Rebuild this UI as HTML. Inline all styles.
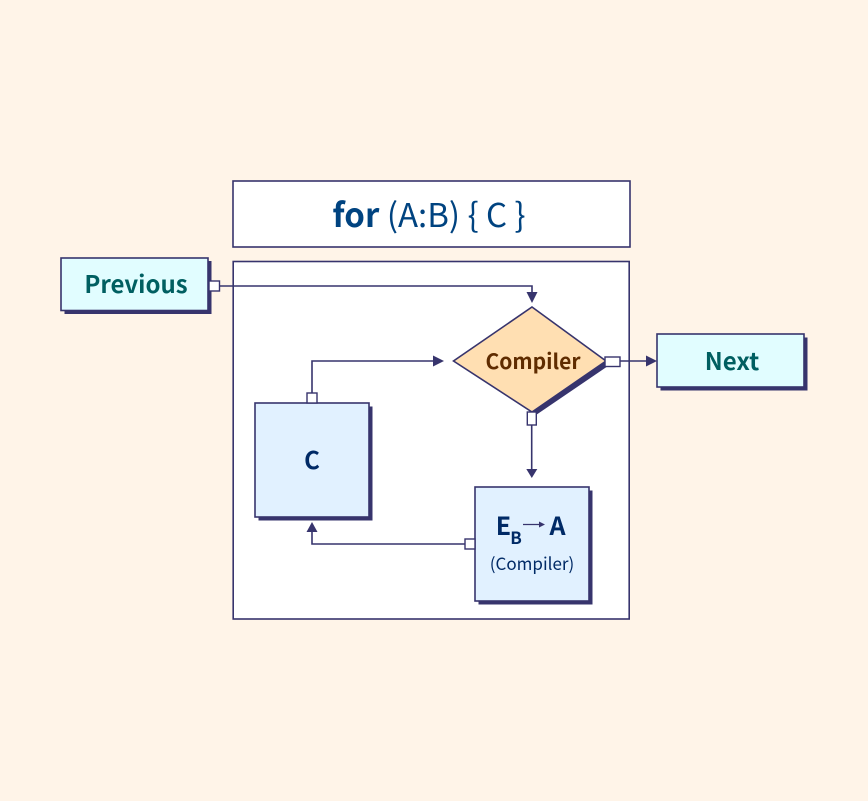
<!DOCTYPE html>
<html><head><meta charset="utf-8"><style>
html,body{margin:0;padding:0;background:#fff4e8}
svg{display:block}
text{font-family:"Noto Sans CJK KR","Noto Sans CJK SC","Liberation Sans",sans-serif;text-anchor:middle}
</style></head><body>
<svg width="868" height="801" viewBox="0 0 868 801" xmlns="http://www.w3.org/2000/svg">
<rect width="868" height="801" fill="#fff4e8"/>
<g stroke="#37346d" stroke-width="1.6">
<rect x="233" y="181" width="397" height="66" fill="#fff"/>
<rect x="233.2" y="261.5" width="396" height="357.5" fill="#fff"/>
</g>
<text x="429" y="227" font-size="33" fill="#004380" font-weight="700" text-anchor="middle">for <tspan font-weight="400">(A:B) { C }</tspan></text>
<!-- connectors -->
<g fill="none" stroke="#37346d" stroke-width="1.6">
<path d="M220 286H532V294"/>
<path d="M312 393V361H434"/>
<path d="M620 361H647"/>
<path d="M531.700 425V469"/>
<path d="M465 544H312V532"/>
</g>
<g fill="#37346d">
<path d="M526.500 292H537.500L532 303Z"/>
<path d="M433 355.500L444 361L433 366.500Z"/>
<path d="M646 355.500L657 361L646 366.500Z"/>
<path d="M526.300 469H537.300L531.800 478Z"/>
<path d="M306.500 532H317.500L312 522Z"/>
<rect x="64.500" y="261" width="147" height="53"/>
<rect x="660.500" y="337.500" width="147" height="53"/>
<rect x="258.500" y="406.500" width="114" height="114"/>
<rect x="478.500" y="490.500" width="114" height="114"/>
<path d="M606 361L608 366L536 415L532 412Z"/>
</g>
<g stroke="#37346d" stroke-width="1.6">
<rect x="61" y="258" width="147" height="52.500" fill="#e1fdff"/>
<rect x="657" y="334" width="147" height="53" fill="#e1fdff"/>
<rect x="255" y="403" width="114" height="114" fill="#e1f1ff"/>
<rect x="475" y="487" width="114" height="114" fill="#e1f1ff"/>
<path d="M532 307L606 361L532 412L453.500 361Z" fill="#ffdfb2" stroke-linejoin="miter"/>
</g>
<!-- ports -->
<g fill="#fff" stroke="#37346d" stroke-width="1.400">
<rect x="209" y="281" width="10.500" height="10"/>
<rect x="307" y="393" width="10" height="10"/>
<rect x="605" y="357" width="15" height="9.500"/>
<rect x="527.300" y="412" width="9" height="13"/>
<rect x="465" y="539" width="10" height="10"/>
</g>
<text x="136" y="293" font-size="24" font-weight="700" fill="#005f61">Previous</text>
<text x="732" y="370" font-size="24" font-weight="700" fill="#005f61">Next</text>
<text x="533" y="369" font-size="21" font-weight="700" fill="#5f2c00">Compiler</text>
<text x="312" y="469" font-size="24" font-weight="700" fill="#002a66">C</text>
<text x="503.500" y="535" font-size="25" font-weight="700" fill="#002a66">E</text>
<text x="516" y="544" font-size="17" font-weight="700" fill="#002a66">B</text>
<text x="557.500" y="535" font-size="25" font-weight="700" fill="#002a66">A</text>
<path d="M523 524.500H540" stroke="#37346d" stroke-width="1.300"/>
<path d="M539 521.500L545 524.500L539 527.500Z" fill="#37346d"/>
<text x="532" y="570" font-size="17" fill="#002a66">(Compiler)</text>
</svg>
</body></html>
